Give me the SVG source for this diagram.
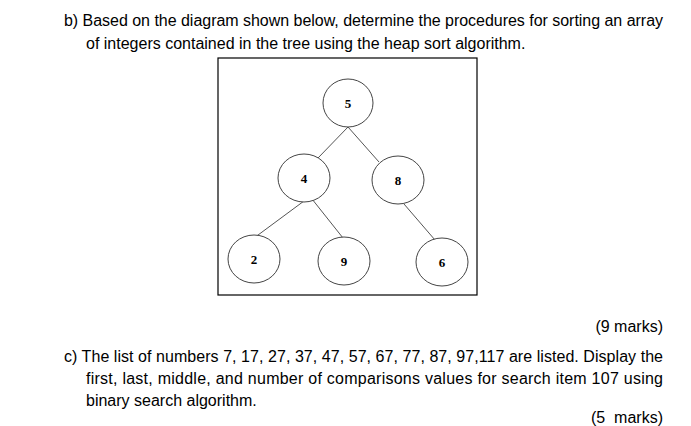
<svg xmlns="http://www.w3.org/2000/svg" width="691" height="426" viewBox="0 0 691 426">
<style>
.t{font-family:"Liberation Sans",Arial,sans-serif;font-size:16px;fill:#000}
.n{fill:#fff;stroke:#444;stroke-width:1}
.l{font-family:"Liberation Serif","Times New Roman",serif;font-size:13px;font-weight:bold;text-anchor:middle}
.e{stroke:#555;stroke-width:1}
</style>
<rect width="691" height="426" fill="#fff"/>
<text class="t" x="64" y="26" textLength="599" lengthAdjust="spacing">b) Based on the diagram shown below, determine the procedures for sorting an array</text>
<text class="t" x="86" y="49">of integers contained in the tree using the heap sort algorithm.</text>
<rect x="218" y="58" width="259" height="237" fill="none" stroke="#000" stroke-width="1.2"/>
<g id="connectors">
<line class="e" x1="348" y1="127" x2="318" y2="158"/>
<line class="e" x1="348" y1="127" x2="379" y2="162"/>
<line class="e" x1="304" y1="201" x2="254" y2="238"/>
<line class="e" x1="312" y1="199" x2="343" y2="238"/>
<line class="e" x1="404" y1="204" x2="435" y2="240"/>
</g>
<g id="n5"><ellipse class="n" cx="348" cy="103" rx="25" ry="24"/><text class="l" x="348" y="108">5</text></g>
<g id="n4"><ellipse class="n" cx="304" cy="178" rx="26" ry="24"/><text class="l" x="304" y="183">4</text></g>
<g id="n8"><ellipse class="n" cx="398" cy="180" rx="26" ry="24"/><text class="l" x="398" y="185">8</text></g>
<g id="n2"><ellipse class="n" cx="254" cy="259" rx="26" ry="24"/><text class="l" x="254" y="264">2</text></g>
<g id="n9"><ellipse class="n" cx="344" cy="261" rx="26" ry="24"/><text class="l" x="344" y="266">9</text></g>
<g id="n6"><ellipse class="n" cx="442" cy="262" rx="26" ry="24"/><text class="l" x="442" y="267">6</text></g>
<text class="t" x="663" y="332" text-anchor="end">(9 marks)</text>
<text class="t" x="64" y="362" textLength="599" lengthAdjust="spacing">c) The list of numbers 7, 17, 27, 37, 47, 57, 67, 77, 87, 97,117 are listed. Display the</text>
<text class="t" x="86" y="384" textLength="577" lengthAdjust="spacing">first, last, middle, and number of comparisons values for search item 107 using</text>
<text class="t" x="86" y="406">binary search algorithm.</text>
<text class="t" x="663" y="423" text-anchor="end" xml:space="preserve">(5  marks)</text>
</svg>
